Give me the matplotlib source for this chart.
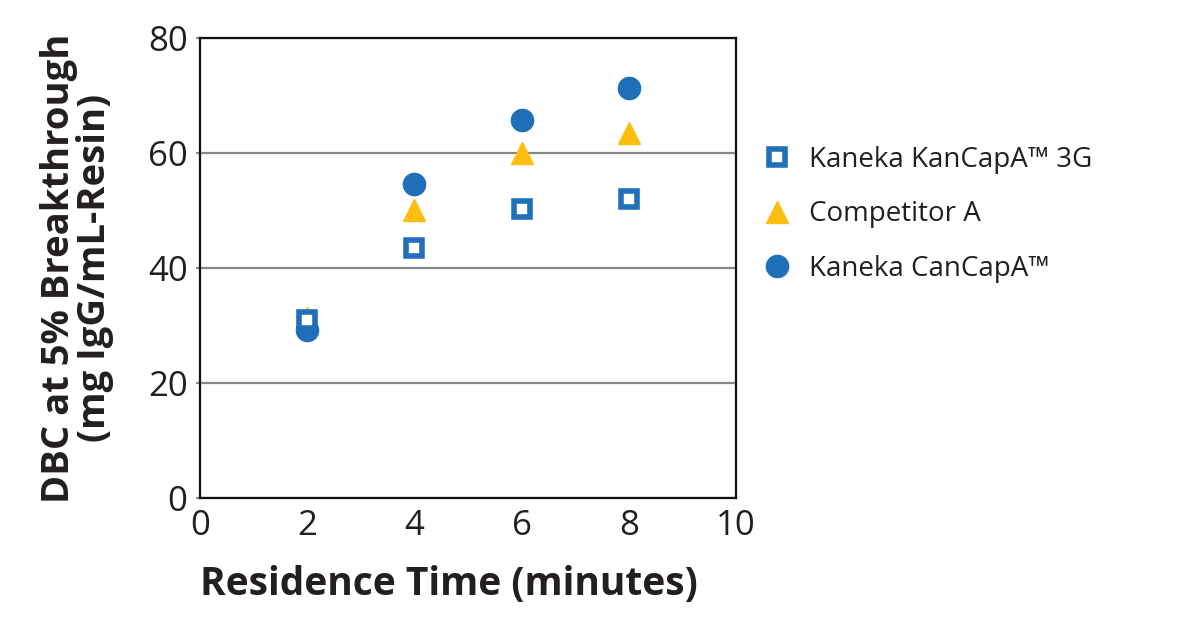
import matplotlib
matplotlib.use("Agg")
import matplotlib.pyplot as plt
from matplotlib.lines import Line2D

plt.rcParams["font.family"] = ["Open Sans", "DejaVu Sans"]

residence_time = [2, 4, 6, 8]
kancapa_3g = [31.0, 43.5, 50.3, 52.0]
competitor_a = [31.3, 50.0, 60.0, 63.5]
kaneka_cancapa = [29.2, 54.6, 65.7, 71.3]

series_labels = ["Kaneka KanCapA\u2122 3G", "Competitor A", "Kaneka CanCapA\u2122"]
x_ticks = [0, 2, 4, 6, 8, 10]
y_ticks = [0, 20, 40, 60, 80]

blue = "#1f6fb9"
yellow = "#fdbe10"
ink = "#231f20"

fig = plt.figure(figsize=(12, 6.3), dpi=100)
ax = fig.add_axes([0.1667, 0.2095, 0.4467, 0.7302])

ax.plot(residence_time, competitor_a, linestyle="none", marker="^",
        markersize=16.5, color=yellow, zorder=3)
ax.plot(residence_time, kaneka_cancapa, linestyle="none", marker="o",
        markersize=16, color=blue, zorder=4)
ax.plot(residence_time, kancapa_3g, linestyle="none", marker="s",
        markersize=11, markerfacecolor="white", markeredgecolor=blue,
        markeredgewidth=4, zorder=5)

ax.set_xlim(0, 10)
ax.set_ylim(0, 80)
ax.set_xticks(x_ticks)
ax.set_yticks(y_ticks)
ax.tick_params(axis="x", length=0, pad=8, labelsize=25, labelcolor=ink)
ax.tick_params(axis="y", length=3, width=1.5, color="#888888", pad=6,
               labelsize=25, labelcolor=ink)
ax.yaxis.grid(True, color="#888888", linewidth=1.6)
ax.set_axisbelow(True)
for s in ax.spines.values():
    s.set_linewidth(1.6)
    s.set_color("#111111")

ax.set_xlabel("Residence Time (minutes)", fontsize=28, fontweight="bold",
              color=ink, labelpad=12)
ax.xaxis.set_label_coords(0.465, -0.145)
ax.set_ylabel("DBC at 5% Breakthrough\n(mg IgG/mL-Resin)", fontsize=27.5,
              fontweight="bold", color=ink, labelpad=24, linespacing=0.95)

handles = [
    Line2D([], [], linestyle="none", marker="s", markersize=11,
           markerfacecolor="white", markeredgecolor=blue, markeredgewidth=4),
    Line2D([], [], linestyle="none", marker="^", markersize=16.5, color=yellow),
    Line2D([], [], linestyle="none", marker="o", markersize=16, color=blue),
]
fig.legend(handles, series_labels, loc="upper left",
           bbox_to_anchor=(0.613, 0.808), frameon=False, fontsize=20,
           handlelength=1.2, handletextpad=0.55, labelspacing=0.95,
           labelcolor=ink)

fig.savefig("out.png", dpi=100)
